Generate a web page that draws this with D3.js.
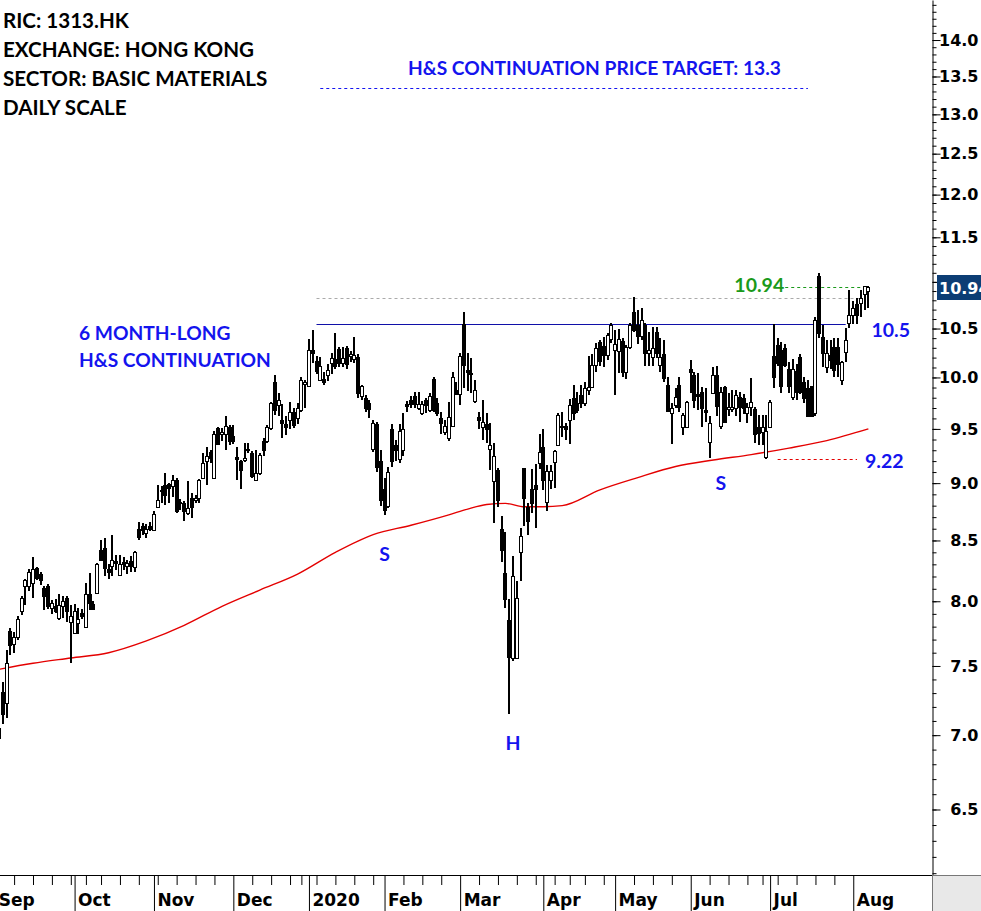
<!DOCTYPE html>
<html>
<head>
<meta charset="utf-8">
<script src="https://cdn.jsdelivr.net/npm/d3@7/dist/d3.min.js"></script>
<style>
  body { margin: 0; background: #fff; }
  svg { display: block; }
  .ann { font-family: Lato, "Open Sans", sans-serif; font-weight: 700; }
</style>
</head>
<body>
<div id="viz"></div>
<script>
// daily candles, one array per month : [open, high, low, close]
var sep2019 = [[7.30,7.40,7.18,7.25],[7.05,7.10,6.93,6.98],[7.31,7.38,7.08,7.15],[7.23,7.62,7.12,7.52],[7.77,7.79,7.58,7.66],
  [7.67,7.76,7.60,7.72],[7.72,7.88,7.70,7.86],[7.92,8.04,7.89,8.03],[8.12,8.18,7.97,8.17],[8.12,8.26,8.08,8.24],
  [8.15,8.36,8.03,8.26],[8.27,8.28,8.17,8.19],[8.22,8.24,8.13,8.17],[8.11,8.12,7.93,8.04],[8.12,8.14,7.94,7.96],
  [7.95,8.01,7.90,7.99],[7.96,8.02,7.91,7.92],[7.87,8.06,7.85,7.97],[7.96,8.04,7.87,8.00],[8.03,8.04,7.84,7.92],
  [7.84,7.97,7.52,7.88]];
var oct2019 = [[7.75,7.98,7.74,7.92],[7.83,7.95,7.74,7.86],[7.91,7.94,7.86,7.88],[7.80,8.15,7.79,8.06],[8.06,8.23,7.93,7.99],
  [7.98,8.00,7.93,7.94],[8.07,8.31,8.06,8.30],[8.42,8.50,8.33,8.34],[8.44,8.52,8.20,8.27],[8.26,8.30,8.18,8.24],
  [8.29,8.55,8.20,8.34],[8.33,8.38,8.25,8.31],[8.21,8.38,8.20,8.30],[8.32,8.36,8.25,8.30],[8.29,8.34,8.22,8.31],
  [8.33,8.37,8.24,8.29],[8.28,8.41,8.24,8.40],[8.60,8.66,8.50,8.53],[8.62,8.65,8.55,8.59],[8.56,8.64,8.52,8.60],
  [8.62,8.66,8.58,8.60]];
var nov2019 = [[8.59,8.75,8.58,8.73],[8.79,8.98,8.78,8.85],[8.93,8.97,8.82,8.94],[8.98,9.09,8.81,8.89],[8.99,9.00,8.82,8.96],
  [8.97,9.07,8.88,9.03],[9.03,9.05,8.74,8.75],[8.82,8.86,8.76,8.83],[8.82,8.84,8.67,8.75],[8.74,9.02,8.72,8.78],
  [8.87,8.91,8.69,8.79],[8.85,8.89,8.82,8.87],[8.87,9.04,8.82,9.03],[9.05,9.27,9.04,9.18],[9.20,9.33,8.98,9.25],
  [9.28,9.30,9.18,9.23],[9.05,9.48,9.04,9.45],[9.51,9.52,9.35,9.36],[9.45,9.51,9.39,9.47],[9.45,9.62,9.30,9.53],
  [9.52,9.54,9.35,9.39]];
var dec2019 = [[9.43,9.54,9.36,9.39],[9.24,9.33,9.03,9.22],[9.20,9.21,8.95,9.12],[9.21,9.37,9.19,9.23],[9.30,9.37,9.27,9.31],
  [9.27,9.29,9.05,9.06],[9.03,9.30,9.02,9.09],[9.09,9.27,9.07,9.26],[9.39,9.41,9.25,9.30],[9.39,9.54,9.37,9.52],
  [9.51,9.76,9.49,9.75],[9.95,10.02,9.63,9.68],[9.73,9.85,9.62,9.78],[9.58,9.74,9.41,9.56],[9.55,9.62,9.44,9.52],
  [9.58,9.76,9.50,9.66],[9.66,9.70,9.51,9.54],[9.60,9.75,9.55,9.70],[9.68,10.00,9.66,9.97],[9.94,9.97,9.70,9.95]];
var jan2020 = [[9.92,10.39,9.91,10.28],[10.28,10.48,10.15,10.25],[10.17,10.22,10.03,10.06],[9.97,10.21,9.96,10.11],[9.98,10.05,9.93,9.95],
  [10.02,10.14,9.96,10.07],[10.15,10.25,10.03,10.20],[10.19,10.45,10.08,10.12],[10.29,10.31,10.10,10.15],[10.15,10.31,10.10,10.20],
  [10.30,10.32,10.08,10.14],[10.22,10.27,10.16,10.24],[10.19,10.41,10.15,10.23],[10.21,10.24,9.80,9.85],[9.82,9.93,9.78,9.92],
  [9.80,9.83,9.66,9.70],[9.75,9.78,9.60,9.69],[9.31,9.58,9.28,9.56],[9.55,9.57,9.10,9.15],[9.20,9.30,8.80,8.85]];
var feb2020 = [[8.95,9.05,8.72,8.76],[8.80,9.15,8.78,9.10],[9.50,9.55,9.15,9.20],[9.35,9.40,9.20,9.30],[9.22,9.55,9.18,9.48],
  [9.30,9.65,9.25,9.50],[9.74,9.77,9.66,9.72],[9.78,9.82,9.70,9.74],[9.82,9.86,9.70,9.74],[9.70,9.86,9.68,9.74],
  [9.65,9.77,9.63,9.74],[9.78,9.80,9.65,9.73],[9.68,9.85,9.66,9.82],[9.98,10.00,9.66,9.68],[9.75,9.80,9.62,9.65],
  [9.60,9.66,9.45,9.56],[9.47,9.58,9.44,9.53],[9.41,9.76,9.39,9.61],[9.53,10.05,9.52,10.00],[9.88,9.95,9.83,9.84]];
var mar2020 = [[9.84,10.25,9.73,10.22],[10.55,10.67,9.90,10.13],[10.07,10.25,9.87,10.05],[10.04,10.20,9.85,10.03],[9.77,9.97,9.75,9.88],
  [9.61,9.66,9.50,9.58],[9.52,9.78,9.40,9.57],[9.55,9.65,9.37,9.50],[9.31,9.56,9.12,9.35],[9.02,9.37,8.65,9.25],
  [9.12,9.14,8.79,8.85],[8.60,8.71,8.32,8.42],[8.23,8.57,7.95,8.02],[7.85,8.02,7.15,7.57],[7.56,8.37,7.54,8.20],
  [7.56,8.16,7.55,8.03],[8.40,8.61,8.16,8.54],[9.14,9.14,8.62,8.87],[8.79,8.82,8.55,8.67],[8.95,9.13,8.74,8.82],
  [8.98,9.17,8.61,8.95],[9.18,9.45,9.13,9.28]];
var apr2020 = [[9.33,9.50,8.94,9.03],[8.83,9.16,8.75,9.11],[9.03,9.16,8.95,9.11],[9.19,9.30,8.96,9.29],[9.35,9.65,9.34,9.63],
  [9.52,9.66,9.42,9.53],[9.53,9.56,9.40,9.50],[9.58,9.79,9.36,9.73],[9.80,9.93,9.58,9.65],[9.75,9.86,9.65,9.68],
  [9.83,9.93,9.70,9.75],[9.75,9.95,9.72,9.90],[9.88,10.22,9.83,9.91],[9.91,10.24,9.90,10.13],[10.13,10.35,10.05,10.30],
  [10.36,10.38,10.12,10.17],[10.32,10.41,10.10,10.23],[10.23,10.45,10.18,10.43],[10.39,10.56,10.35,10.54]];
var may2020 = [[10.28,10.48,9.83,10.34],[10.27,10.50,10.04,10.39],[10.37,10.40,10.00,10.05],[10.05,10.33,9.98,10.31],[10.31,10.56,10.29,10.54],
  [10.67,10.84,10.46,10.48],[10.54,10.70,10.34,10.42],[10.42,10.72,10.38,10.59],[10.54,10.56,10.12,10.25],[10.25,10.46,10.12,10.28],
  [10.21,10.52,10.12,10.30],[10.46,10.52,10.20,10.25],[10.13,10.40,10.05,10.21],[10.24,10.38,9.95,9.99],[9.93,10.00,9.66,9.67],
  [9.65,9.75,9.36,9.70],[9.73,9.90,9.70,9.81],[9.93,10.00,9.66,9.71],[9.52,9.65,9.44,9.63],[9.52,9.77,9.51,9.76]];
var jun2020 = [[10.08,10.18,9.85,10.05],[10.02,10.05,9.70,9.78],[9.84,10.04,9.68,9.82],[9.86,9.91,9.52,9.70],[9.68,9.90,9.57,9.66],
  [9.38,9.62,9.23,9.56],[9.85,10.10,9.84,10.02],[10.02,10.11,9.62,9.72],[9.53,9.91,9.50,9.86],[9.91,9.92,9.56,9.57],
  [9.69,9.85,9.62,9.71],[9.69,9.88,9.66,9.71],[9.70,9.88,9.62,9.83],[9.81,9.86,9.57,9.71],[9.80,9.84,9.64,9.70],
  [9.65,9.75,9.56,9.71],[9.71,9.99,9.62,9.76],[9.69,9.71,9.37,9.45],[9.52,9.63,9.35,9.46],[9.47,9.63,9.35,9.52],
  [9.24,9.63,9.22,9.48]];
var jul2020 = [[9.52,9.78,9.51,9.76],[10.22,10.55,9.90,10.00],[10.33,10.40,10.12,10.15],[10.28,10.36,9.85,9.92],[10.30,10.34,10.10,10.13],
  [10.08,10.16,9.85,9.92],[9.81,10.19,9.78,10.08],[10.06,10.14,9.78,9.86],[10.21,10.24,9.84,9.86],[9.95,10.00,9.75,9.80],
  [9.90,9.97,9.62,9.62],[9.92,9.92,9.62,9.62],[9.65,10.62,9.62,10.59],[11.07,11.10,10.40,10.45],[10.41,10.54,10.10,10.25],
  [10.10,10.38,10.04,10.25],[10.23,10.38,10.08,10.18],[10.31,10.40,10.00,10.07],[10.31,10.40,10.00,10.14],[9.97,10.17,9.93,10.16],
  [10.26,10.51,10.16,10.38],[10.56,10.91,10.51,10.64]];
var aug2020 = [[10.64,10.79,10.55,10.72],[10.76,10.82,10.55,10.64],[10.77,10.91,10.62,10.82],[10.87,10.95,10.70,10.95],[10.90,10.96,10.72,10.94]];

// HK exchange holidays inside the period
var holidays = ["2019-10-01","2019-10-07","2019-12-25","2019-12-26","2020-01-01","2020-01-27","2020-01-28",
  "2020-04-10","2020-04-13","2020-04-30","2020-05-01","2020-06-25","2020-07-01"];
var monthLabels = ["Sep","Oct","Nov","Dec","2020","Feb","Mar","Apr","May","Jun","Jul","Aug"];
var yLabels = [6.5,7.0,7.5,8.0,8.5,9.0,9.5,10.0,10.5,11.0,11.5,12.0,12.5,13.0,13.5,14.0];

// 200 day moving average (candle index, value)
var maIdx = [0,10,20,30,40,50,60,70,80,90,100,110,120,125,130,135,140,145,150,160,170,180,190,200,210,220,231];
var maVal = [7.47,7.52,7.56,7.60,7.69,7.81,7.96,8.09,8.22,8.40,8.55,8.63,8.72,8.77,8.81,8.82,8.79,8.79,8.80,8.94,9.05,9.15,9.21,9.26,9.32,9.39,9.50];

// levels
var targetLevel = 13.35, necklineLevel = 10.55, priorHigh = 10.82, lastPrice = 10.94, supportLevel = 9.22;

var W = 981, H = 911, plotR = 932, plotB = 875;

var svg = d3.select("#viz").append("svg").attr("width", W).attr("height", H);

var candles = [];
[sep2019, oct2019, nov2019, dec2019, jan2020, feb2020, mar2020, apr2020, may2020, jun2020, jul2020, aug2020]
  .forEach(function(m) { m.forEach(function(d) { candles.push({o: d[0], h: d[1], l: d[2], c: d[3]}); }); });

var fmt = d3.timeFormat("%Y-%m-%d");
var day = new Date(2019, 8, 2);
candles.forEach(function(c, i) {
  while (day.getDay() == 0 || day.getDay() == 6 || holidays.indexOf(fmt(day)) >= 0) day = d3.timeDay.offset(day, 1);
  c.date = day; c.i = i;
  day = d3.timeDay.offset(day, 1);
});

var x = d3.scaleLinear().domain([0, 245]).range([-4.8, 921.3]);
var y = d3.scaleLog().domain([6.089, 14.57]).range([plotB, 0]);

svg.append("clipPath").attr("id", "plot").append("rect").attr("width", plotR).attr("height", plotB);
var plot = svg.append("g").attr("clip-path", "url(#plot)");

// moving average
var ma = maIdx.map(function(d, k) { return {i: d, v: maVal[k]}; });
plot.append("path").datum(ma)
  .attr("fill", "none").attr("stroke", "#e40000").attr("stroke-width", 1.4)
  .attr("d", d3.line().curve(d3.curveMonotoneX).x(function(d) { return x(d.i); }).y(function(d) { return y(d.v); }));

// level lines
function hline(p, i0, i1, color, dash, w) {
  plot.append("line")
    .attr("x1", x(i0)).attr("x2", x(i1)).attr("y1", Math.round(y(p)) + 0.5).attr("y2", Math.round(y(p)) + 0.5)
    .attr("stroke", color).attr("stroke-width", w || 1).attr("stroke-dasharray", dash);
}
hline(priorHigh, 85, 229, "#aaaaaa", "3,3");
hline(necklineLevel, 85, 225, "#1010a8", null, 1.2);
hline(targetLevel, 86, 215, "#1414f0", "3,3");
hline(lastPrice, 209, 231, "#1a9a1a", "3,3");
hline(supportLevel, 207, 228, "#e40000", "3,3");

// candles: 2px wick, 4px body, hollow up days
var cg = plot.append("g");
candles.forEach(function(c) {
  var r = Math.round(x(c.i));
  var top = Math.round(y(Math.max(c.o, c.c))), bot = Math.round(y(Math.min(c.o, c.c)));
  if (bot - top < 1) bot = top + 1;
  cg.append("rect").attr("x", r - 1).attr("width", 2)
    .attr("y", Math.round(y(c.h))).attr("height", Math.max(1, Math.round(y(c.l)) - Math.round(y(c.h))))
    .attr("fill", "#000");
  cg.append("rect").attr("x", r - 2).attr("width", 4).attr("y", top).attr("height", bot - top + 1).attr("fill", "#000");
  if (c.c >= c.o && bot - top > 1) {
    cg.append("rect").attr("x", r - 1).attr("width", 2).attr("y", top + 1).attr("height", bot - top - 1).attr("fill", "#fff");
  }
});

// x axis
var monthIdx = [], weekIdx = [];
candles.forEach(function(c, i) {
  if (i == 0 || c.date.getMonth() != candles[i - 1].date.getMonth()) monthIdx.push(i);
  else if (+d3.timeMonday.floor(c.date) != +d3.timeMonday.floor(candles[i - 1].date)) weekIdx.push(i);
});

var xg = svg.append("g").attr("transform", "translate(0," + plotB + ")");
xg.call(d3.axisBottom(x).tickValues(weekIdx).tickSize(10).tickSizeOuter(0).tickFormat(""));
xg.select(".domain").remove();
var xm = svg.append("g").attr("transform", "translate(0," + plotB + ")");
xm.call(d3.axisBottom(x).tickValues(monthIdx).tickSize(36).tickSizeOuter(0)
  .tickFormat(function(d, k) { return monthLabels[k]; }));
xm.select(".domain").remove();
xm.selectAll("text").attr("x", 3).attr("y", 31).attr("dy", 0).attr("text-anchor", "start");
[xg, xm].forEach(function(g) {
  g.attr("font-family", "DejaVu Sans").attr("font-size", 17).attr("font-weight", "bold");
  g.selectAll("line").attr("stroke", "#000");
  g.selectAll("text").attr("fill", "#000");
});
svg.append("line").attr("x1", 0).attr("x2", plotR).attr("y1", plotB + 0.5).attr("y2", plotB + 0.5).attr("stroke", "#000");

// y axis (11.0 label sits under the last price box)
var minor = d3.range(61, 146).map(function(v) { return v / 10; });
var yg = svg.append("g").attr("transform", "translate(" + (plotR + 0.5) + ",0)");
yg.call(d3.axisRight(y).tickValues(minor).tickSize(4).tickSizeOuter(0).tickFormat(""));
var ym = svg.append("g").attr("transform", "translate(" + (plotR + 0.5) + ",0)");
ym.call(d3.axisRight(y).tickValues(yLabels).tickSize(8).tickSizeOuter(0)
  .tickFormat(function(d) { return Math.abs(d - lastPrice) < 0.2 ? "" : d3.format(".1f")(d); }));
ym.select(".domain").remove();
ym.selectAll("text").attr("x", 46).attr("text-anchor", "end");
[yg, ym].forEach(function(g) {
  g.attr("font-family", "DejaVu Sans").attr("font-size", 16).attr("font-weight", "bold");
  g.selectAll("line,path").attr("stroke", "#000");
  g.selectAll("text").attr("fill", "#000");
});

// corner box
svg.append("rect").attr("x", plotR + 1).attr("y", plotB + 1).attr("width", W - plotR - 1).attr("height", H - plotB - 1).attr("fill", "#e8e8e8");
svg.append("line").attr("x1", plotR).attr("x2", W).attr("y1", plotB + 0.5).attr("y2", plotB + 0.5).attr("stroke", "#777");
svg.append("line").attr("x1", plotR + 0.5).attr("x2", plotR + 0.5).attr("y1", plotB).attr("y2", H).attr("stroke", "#777");

// last price box
var ly = y(lastPrice);
svg.append("rect").attr("x", 937).attr("y", Math.round(ly) - 12).attr("width", W - 937).attr("height", 25).attr("fill", "#0c3d74");
svg.append("text").attr("x", 939).attr("y", ly + 7).attr("fill", "#fff")
  .attr("font-family", "DejaVu Sans").attr("font-weight", "bold").attr("font-size", 16).text(lastPrice.toFixed(2));

// annotations
var info = ["RIC: 1313.HK", "EXCHANGE: HONG KONG", "SECTOR: BASIC MATERIALS", "DAILY SCALE"];
svg.selectAll("text.info").data(info).enter().append("text").attr("class", "ann info")
  .attr("x", 3).attr("y", function(d, k) { return 28 + k * 29; })
  .attr("font-size", 20.6).attr("fill", "#000").text(function(d) { return d; });

var blue = "#1414ee";
function note(t, px, py, size, color, anchor) {
  svg.append("text").attr("class", "ann").attr("x", px).attr("y", py)
    .attr("font-size", size).attr("fill", color).attr("text-anchor", anchor || "start").text(t);
}
note("H&S CONTINUATION PRICE TARGET: 13.3", 408, y(targetLevel) - 13, 19.2, blue);
note("6 MONTH-LONG", 79, 340, 19.2, blue);
note("H&S CONTINUATION", 79, 367, 19.2, blue);
note("10.94", x(209) - 1, y(lastPrice) + 5, 19.5, "#1a9a1a", "end");
note("10.5", x(231) + 3, y(necklineLevel) + 13, 19.5, blue);
note("9.22", x(228) + 8, y(supportLevel) + 9, 19.5, blue);

var hs = [{t: "S", i: 103, p: 8.33}, {t: "H", i: 137, p: 6.90}, {t: "S", i: 192, p: 8.94}];
hs.forEach(function(d) { note(d.t, x(d.i), y(d.p), 19.5, blue, "middle"); });
</script>
</body>
</html>
